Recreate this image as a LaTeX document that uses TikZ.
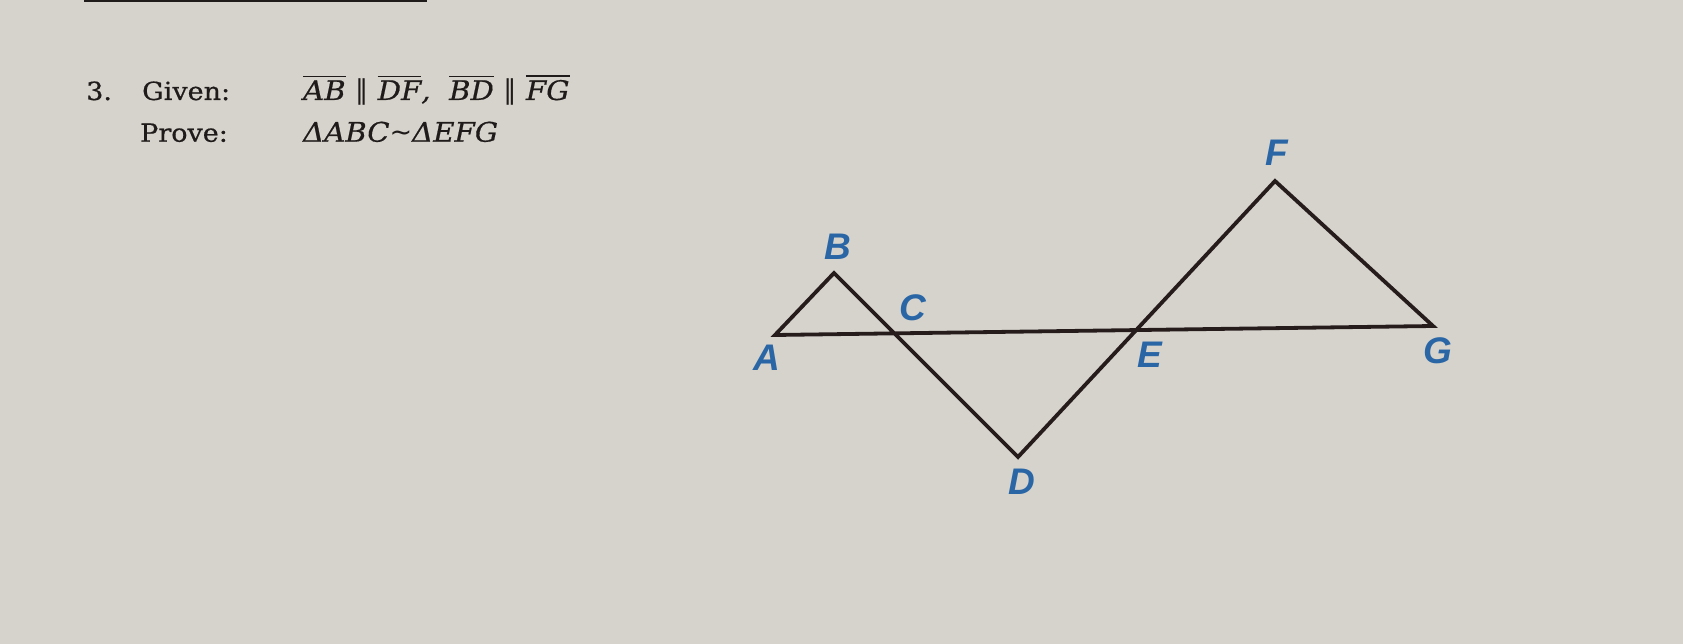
\documentclass[tikz,border=0pt]{standalone}
\usepackage{fontspec}
\setmainfont{DejaVu Serif}[FakeStretch=1.08,FakeBold=0.6]
\newfontfamily\lblfont{Liberation Sans}
\newfontfamily\symfont{DejaVu Sans}
\definecolor{paper}{RGB}{213,211,204}
\definecolor{ink}{RGB}{32,27,27}
\definecolor{lineink}{RGB}{38,28,28}
\definecolor{lblue}{RGB}{42,102,166}
\newcommand\ovl[1]{\leavevmode\vbox{\hrule height 1.6pt\kern 3pt\hbox{#1}}}
\begin{document}
\begin{tikzpicture}[x=1pt,y=-1pt,
  txt/.style={anchor=base west, inner sep=0pt, text=ink, font=\fontsize{25}{29}\selectfont},
  mth/.style={anchor=base west, inner sep=0pt, text=ink, font=\fontsize{27}{30}\selectfont\itshape},
  lbl/.style={text=lblue, inner sep=0pt, font=\lblfont\bfseries\itshape\fontsize{37}{40}\selectfont},
  seg/.style={draw=lineink, line width=3.8pt, line join=miter}]
\useasboundingbox (0,0) rectangle (1683,644);
\fill[paper] (0,0) rectangle (1683,644);
\fill[ink] (84,0) rectangle (427,2.5);
% text
\node[txt] (n3) at (86,100) {3.};
\node[txt] (given) at (142,100) {Given:};
\node[txt] (prove) at (140,141.7) {Prove:};
\node[mth] (gmath) at (303,100) {\ovl{AB} {\symfont\upshape ∥} \ovl{DF},\ \ \ovl{BD} {\symfont\upshape ∥} \ovl{FG}};
\node[mth] (pmath) at (303,141.7) {ΔABC{\symfont\upshape ∼}ΔEFG};
% points
\coordinate (A) at (775,335);
\coordinate (B) at (834,273);
\coordinate (D) at (1018,457);
\coordinate (F) at (1275,181);
\coordinate (G) at (1433,326);
\draw[seg] (A) -- (B) -- (D) -- (F) -- (G) -- cycle;
% labels
\node[lbl] (lA) at (767,358) {A};
\node[lbl] (lB) at (838,247) {B};
\node[lbl] (lC) at (913,308) {C};
\node[lbl] (lD) at (1022,482) {D};
\node[lbl] (lE) at (1150,355) {E};
\node[lbl] (lF) at (1277,153) {F};
\node[lbl] (lG) at (1438,351) {G};
\end{tikzpicture}
\end{document}
